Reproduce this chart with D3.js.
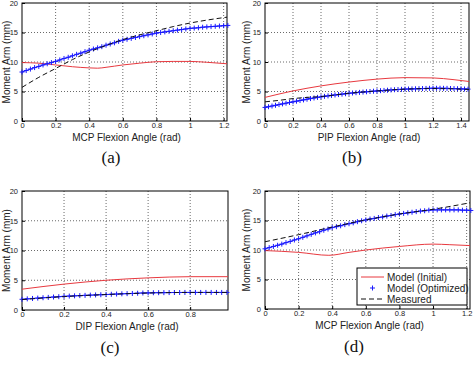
<!DOCTYPE html>
<html><head><meta charset="utf-8">
<script src="https://cdn.jsdelivr.net/npm/d3@7"></script>
<style>body{margin:0;background:#fff}svg{display:block}</style>
</head><body>
<svg id="c" width="474" height="378"></svg>
<script>
// ---------- DATA ----------
const yTicks = [0, 5, 10, 15, 20];
const xTicksA = [0, 0.2, 0.4, 0.6, 0.8, 1, 1.2];
const xTicksB = [0, 0.2, 0.4, 0.6, 0.8, 1, 1.2, 1.4];
const xTicksC = [0, 0.2, 0.4, 0.6, 0.8];
const xTicksD = [0, 0.2, 0.4, 0.6, 0.8, 1, 1.2];
const seriesNames = ["Model (Initial)", "Model (Optimized)", "Measured"];
const panelLetters = ["(a)", "(b)", "(c)", "(d)"];
const xLabels = ["MCP Flexion Angle (rad)", "PIP Flexion Angle (rad)", "DIP Flexion Angle (rad)", "MCP Flexion Angle (rad)"];
const yLabel = "Moment Arm (mm)";
const xMax = [1.22, 1.457, 0.98, 1.22];

// optimized model, sampled every 0.025 rad
const optStep = 0.025;
const optA = [8.3,8.55,8.8,9.05,9.25,9.5,9.7,9.9,10.1,10.35,10.6,10.8,11.05,11.3,11.5,11.75,12.0,12.2,12.4,12.6,12.85,13.05,13.25,13.5,13.7,13.85,14.0,14.15,14.3,14.45,14.6,14.75,14.9,15.0,15.1,15.2,15.3,15.4,15.5,15.6,15.7,15.75,15.8,15.9,15.95,16.0,16.05,16.1,16.15,16.2];
const optB = [2.3,2.42,2.54,2.66,2.78,2.9,3.02,3.14,3.25,3.36,3.47,3.58,3.69,3.8,3.9,4.0,4.1,4.18,4.26,4.34,4.41,4.48,4.55,4.62,4.7,4.75,4.8,4.85,4.9,4.95,5.0,5.05,5.1,5.14,5.18,5.22,5.26,5.3,5.33,5.37,5.4,5.42,5.44,5.46,5.48,5.5,5.52,5.54,5.55,5.55,5.55,5.54,5.53,5.51,5.49,5.47,5.45,5.42,5.4];
const optC = [1.8,1.87,1.94,2.0,2.06,2.12,2.18,2.24,2.3,2.34,2.38,2.42,2.46,2.5,2.53,2.57,2.6,2.64,2.68,2.72,2.75,2.78,2.82,2.86,2.88,2.9,2.91,2.92,2.93,2.94,2.94,2.95,2.95,2.95,2.95,2.95,2.95,2.95,2.95,2.95];
const optD = [10.2,10.4,10.6,10.8,11.0,11.25,11.45,11.7,11.9,12.15,12.4,12.65,12.9,13.1,13.35,13.55,13.8,13.95,14.1,14.3,14.45,14.6,14.8,14.95,15.1,15.25,15.35,15.5,15.6,15.75,15.85,16.0,16.1,16.2,16.3,16.4,16.5,16.6,16.65,16.75,16.8,16.8,16.8,16.8,16.8,16.8,16.8,16.75,16.75,16.7];

// initial model
const initAx = [0,0.1,0.2,0.3,0.4,0.45,0.5,0.6,0.7,0.8,0.9,1.0,1.1,1.22];
const initAy = [9.9,9.8,9.5,9.2,9.0,8.95,9.1,9.5,9.8,10.05,10.1,10.1,9.95,9.7];
const initBx = [0,0.2,0.4,0.6,0.8,1.0,1.2,1.35,1.457];
const initBy = [4.0,5.1,5.95,6.6,7.1,7.35,7.3,7.0,6.7];
const initCx = [0,0.2,0.4,0.6,0.8,0.98];
const initCy = [3.5,4.35,5.0,5.4,5.6,5.6];
const initDx = [0,0.2,0.38,0.5,0.6,0.8,1.0,1.1,1.22];
const initDy = [9.9,9.6,9.1,9.6,10.0,10.6,11.0,10.9,10.75];

// measured
const measAx = [0,0.1,0.2,0.3,0.4,0.5,0.6,0.7,0.8,0.9,1.0,1.1,1.22];
const measAy = [5.7,7.4,8.9,10.4,11.7,12.8,13.8,14.6,15.3,16.0,16.6,17.1,17.6];
const measBx = [0,0.1,0.2,0.3,0.4,0.6,0.8,1.0,1.2,1.457];
const measBy = [3.25,3.5,3.8,4.0,4.15,4.7,5.1,5.4,5.5,5.35];
const measCx = [0,0.2,0.4,0.6,0.8,0.98];
const measCy = [1.75,2.25,2.6,2.85,2.95,2.95];
const measDx = [0,0.2,0.4,0.6,0.8,1.0,1.22];
const measDy = [11.4,12.6,13.9,15.1,16.1,16.9,18.0];

// ---------- LAYOUT ----------
const panels = [
  {l:22, r:227, t:3, b:121, xt:xTicksA, opt:optA, ix:initAx, iy:initAy, mx:measAx, my:measAy, ly:163, lx:111, ylx:6},
  {l:265, r:469, t:3, b:121, xt:xTicksB, opt:optB, ix:initBx, iy:initBy, mx:measBx, my:measBy, ly:163, lx:352, ylx:246},
  {l:22, r:228, t:191, b:310, xt:xTicksC, opt:optC, ix:initCx, iy:initCy, mx:measCx, my:measCy, ly:353, lx:110, ylx:6},
  {l:265, r:470, t:191, b:309, xt:xTicksD, opt:optD, ix:initDx, iy:initDy, mx:measDx, my:measDy, ly:352, lx:354, ylx:246}
];
const RED = "#e8393f", BLUE = "#1a1aff";
const svg = d3.select("#c");
const fontS = "'Liberation Sans', Arial, sans-serif";

panels.forEach((p, i) => {
  const x = d3.scaleLinear().domain([0, xMax[i]]).range([p.l, p.r]);
  const y = d3.scaleLinear().domain([0, 20]).range([p.b, p.t]);
  const g = svg.append("g");
  // grid
  g.selectAll(".gx").data(p.xt.filter(v => v > 0)).join("line")
    .attr("x1", d => x(d)).attr("x2", d => x(d)).attr("y1", p.t).attr("y2", p.b)
    .attr("stroke", "#444").attr("stroke-width", 0.8).attr("stroke-dasharray", "1,2");
  g.selectAll(".gy").data(yTicks.filter(v => v > 0 && v < 20)).join("line")
    .attr("y1", d => y(d)).attr("y2", d => y(d)).attr("x1", p.l).attr("x2", p.r)
    .attr("stroke", "#444").attr("stroke-width", 0.8).attr("stroke-dasharray", "1,2");
  // axes
  const ax = d3.axisBottom(x).tickValues(p.xt).tickSize(-3).tickPadding(2).tickFormat(d3.format("~g"));
  const ay = d3.axisLeft(y).tickValues(yTicks).tickSize(-3).tickPadding(4);
  const gx = g.append("g").attr("transform", `translate(0,${p.b})`).call(ax);
  const gy = g.append("g").attr("transform", `translate(${p.l},0)`).call(ay);
  [gx, gy].forEach(a => {
    a.select(".domain").remove();
    a.selectAll("text").attr("font-family", fontS).attr("font-size", 7.5).attr("fill", "#222");
    a.selectAll("line").attr("stroke", "#000");
  });
  // box
  g.append("rect").attr("x", p.l).attr("y", p.t).attr("width", p.r - p.l).attr("height", p.b - p.t)
    .attr("fill", "none").attr("stroke", "#000").attr("stroke-width", 1);

  // initial (red)
  const line = d3.line().x(d => x(d[0])).y(d => y(d[1])).curve(d3.curveMonotoneX);
  g.append("path").attr("d", line(p.ix.map((v, k) => [v, p.iy[k]])))
    .attr("fill", "none").attr("stroke", RED).attr("stroke-width", 1);
  // optimized (blue +)
  const optPts = p.opt.map((v, k) => [k * optStep, v]);
  g.append("path").attr("d", line(optPts)).attr("fill", "none").attr("stroke", BLUE).attr("stroke-width", 1);
  g.selectAll(".m").data(optPts).join("path")
    .attr("d", d => `M${x(d[0]) - 2.5},${y(d[1])}h5M${x(d[0])},${y(d[1]) - 2.5}v5`)
    .attr("stroke", BLUE).attr("stroke-width", 1).attr("fill", "none");
  // measured (black dashed)
  g.append("path").attr("d", line(p.mx.map((v, k) => [v, p.my[k]])))
    .attr("fill", "none").attr("stroke", "#111").attr("stroke-width", 1).attr("stroke-dasharray", "5,3");

  // labels
  g.append("text").attr("x", (p.l + p.r) / 2 + 2).attr("y", p.b + 20).attr("text-anchor", "middle")
    .attr("font-family", fontS).attr("font-size", 10).attr("fill", "#222").text(xLabels[i]);
  g.append("text").attr("transform", `translate(${p.ylx},${(p.t + p.b) / 2}) rotate(-90)`)
    .attr("text-anchor", "middle").attr("dy", "0.35em")
    .attr("font-family", fontS).attr("font-size", 10).attr("fill", "#222").text(yLabel);
  g.append("text").attr("x", p.lx).attr("y", p.ly).attr("text-anchor", "middle")
    .attr("font-family", "'Liberation Serif', 'Times New Roman', serif").attr("font-size", 17).attr("fill", "#111")
    .text(panelLetters[i]);
});

// legend in panel d
const lg = svg.append("g");
lg.append("rect").attr("x", 357).attr("y", 268).attr("width", 110).attr("height", 37)
  .attr("fill", "#fff").attr("stroke", "#000").attr("stroke-width", 1);
const ly0 = [277, 288, 299];
seriesNames.forEach((n, k) => {
  if (k === 0) lg.append("line").attr("x1", 361).attr("x2", 384).attr("y1", ly0[k]).attr("y2", ly0[k]).attr("stroke", RED);
  if (k === 1) lg.append("path").attr("d", `M${372.5 - 2.5},${ly0[k]}h5M${372.5},${ly0[k] - 2.5}v5`).attr("stroke", BLUE);
  if (k === 2) lg.append("line").attr("x1", 361).attr("x2", 384).attr("y1", ly0[k]).attr("y2", ly0[k]).attr("stroke", "#111").attr("stroke-dasharray", "5,3");
  lg.append("text").attr("x", 387).attr("y", ly0[k]).attr("dy", "0.35em")
    .attr("font-family", fontS).attr("font-size", 10).attr("fill", "#222").text(n);
});
</script>
</body></html>
